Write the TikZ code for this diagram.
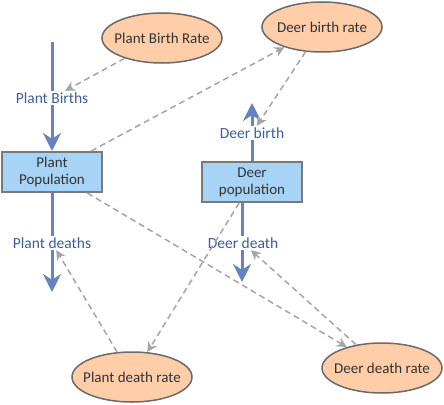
\documentclass[tikz,border=0pt]{standalone}
\usepackage{fontspec}
\setmainfont{Carlito}
\usetikzlibrary{arrows.meta,shapes.geometric}
\definecolor{ratepeach}{HTML}{FFCDA8}
\definecolor{stockblue}{HTML}{A7D4F6}
\definecolor{flowblue}{HTML}{6483C0}
\definecolor{flowtext}{HTML}{3F5C9E}
\definecolor{linkgray}{HTML}{A5A5A5}
\definecolor{edgegray}{HTML}{6A6A6A}
\tikzset{
  % rates: fixed-size ellipses, the text is kept out of the size computation
  rate/.style={ellipse,draw=edgegray,line width=1.5pt,fill=ratepeach,minimum width=120pt,minimum height=50pt,
               inner sep=0,text=black!80,font=\fontsize{15}{17}\selectfont,
               execute at begin node=\hbox to 0pt\bgroup\hss,execute at end node=\hss\egroup},
  stock/.style={rectangle,draw=edgegray!90,line width=2pt,fill=stockblue,minimum width=100pt,minimum height=40pt,
                inner sep=0,align=center,text=black!80,font=\fontsize{15}{17}\selectfont},
  % the flows are thick blue pipes, their labels sit on them with a white patch
  flow/.style={-{Stealth[length=18pt,width=18pt]},draw=flowblue,line width=3pt},
  flowlab/.style={fill=white,text=flowtext,inner sep=1.5pt,font=\fontsize{15.5}{17}\selectfont},
  link/.style={-{Stealth[length=10pt,width=10pt]},draw=linkgray,line width=1.5pt,dash pattern=on 6pt off 4pt},
}
\begin{document}
\begin{tikzpicture}[x=1pt,y=-1pt]
  \useasboundingbox (0,0) rectangle (444,404);
  % stocks and rates
  \node[stock] (pp) at (52,172) {Plant\\Population};
  \node[stock] (dp) at (252,182) {Deer\\population};
  \node[rate] (pbr) at (162,38) {Plant Birth Rate};
  \node[rate] (dbr) at (322,27) {Deer birth rate};
  \node[rate] (pdr) at (132,377) {Plant death rate};
  \node[rate] (ddr) at (382,368) {Deer death rate};
  % flows in and out of the stocks
  \coordinate (pbsrc) at (52,42);
  \coordinate (pdend) at (52,292);
  \coordinate (dbend) at (252,103);
  \coordinate (ddend) at (242,282);
  \draw[flow] (pbsrc) -- (pp.north);
  \draw[flow] (pp.south) -- (pdend);
  \draw[flow] (dp.north) -- (dbend);
  \draw[flow] (dp.south -| ddend) -- (ddend);
  \node[flowlab] (pbl) at (52,98) {Plant Births};
  \node[flowlab] (pdl) at (52,243) {Plant deaths};
  \node[flowlab] (dbl) at (252,133) {Deer birth};
  \node[flowlab] (ddl) at (243,243) {Deer death};
  % dashed influence links
  \draw[link] (pbr) -- (pbl);
  \draw[link] (pp) -- (dbr);
  \draw[link] (dbr) -- (dbl);
  \draw[link] (pp) -- (ddr);
  \draw[link] (ddr) -- (ddl);
  \draw[link] (dp) -- (pdr);
  \draw[link] (pdr) -- (pdl);
\end{tikzpicture}
\end{document}
